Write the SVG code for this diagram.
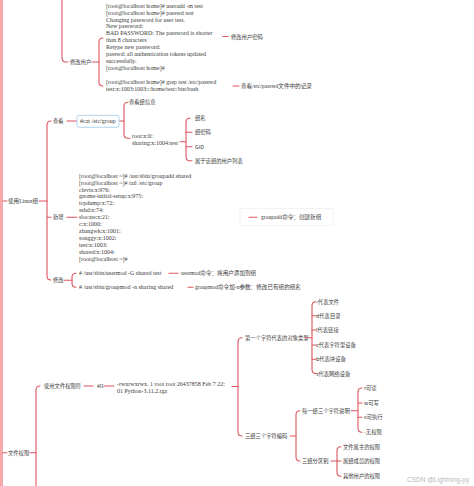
<svg xmlns="http://www.w3.org/2000/svg" width="474" height="486" viewBox="0 0 474 486">
<style>
text{dominant-baseline:central;fill:#3a3a3a}
.t{font-family:"Liberation Serif","Noto Sans CJK SC",serif;font-size:6px}
.c{font-family:"Noto Sans CJK SC","Liberation Sans",sans-serif;font-size:5.3px}
.m{font-family:"Liberation Serif","Noto Sans CJK SC",serif;font-size:5.6px}
.wm{font-family:"Liberation Sans",sans-serif;font-size:6.5px;fill:#b8b8b8}
#connectors path{fill:none;stroke:#de5560;stroke-width:1.1;stroke-linecap:round}
</style>
<rect x="0" y="0" width="474" height="486" fill="#ffffff"/>
<rect x="0" y="0" width="3" height="486" fill="#f6a7aa"/>
<g id="connectors">
<path d="M62 0 V58 Q62 62 66 62 H68"/>
<path d="M92 62 H99"/>
<path d="M103 38 Q99 38 99 42 V82 Q99 86 103 86"/>
<path d="M223 36.5 H228"/>
<path d="M233 86 H239"/>
<path d="M3 201 H7"/>
<path d="M39 201 H47"/>
<path d="M51 121 Q47 121 47 125 V276 Q47 280 51 280"/>
<path d="M47 217.3 H51"/>
<path d="M67 121 H77"/>
<path d="M119 121 H124"/>
<path d="M128 102.3 Q124 102.3 124 106.3 V134.3 Q124 138.3 128 138.3 H130"/>
<path d="M180 141.7 H186"/>
<path d="M190 118.3 Q186 118.3 186 122.3 V156.7 Q186 160.7 190 160.7 H192"/>
<path d="M186 132.3 H192 M186 146.7 H192"/>
<path d="M67 217.3 H77"/>
<path d="M249 217.3 H257"/>
<path d="M64 280.3 H72"/>
<path d="M76 273.3 Q72 273.3 72 277.3 V283.3 Q72 287.3 76 287.3"/>
<path d="M169 273.3 H178"/>
<path d="M188 287.3 H193"/>
<path d="M3 452.7 H7"/>
<path d="M30 452.7 H36"/>
<path d="M40 386 Q36 386 36 390 V486"/>
<path d="M84 386 H93"/>
<path d="M104 386 H114"/>
<path d="M232 386.5 H238"/>
<path d="M242 337.7 Q238 337.7 238 341.7 V432 Q238 436 242 436"/>
<path d="M305 337.7 H312"/>
<path d="M316 301.7 Q312 301.7 312 305.7 V369.5 Q312 373.5 316 373.5"/>
<path d="M312 315.7 H316 M312 330 H316 M312 345 H316 M312 359.3 H316"/>
<path d="M290 436 H296"/>
<path d="M300 410.7 Q296 410.7 296 414.7 V457 Q296 461 300 461"/>
<path d="M351 410.7 H358"/>
<path d="M362 388 Q358 388 358 392 V428.3 Q358 432.3 362 432.3"/>
<path d="M358 403 H362 M358 417.3 H362"/>
<path d="M331 461 H337"/>
<path d="M341 446.7 Q337 446.7 337 450.7 V472.3 Q337 476.3 341 476.3"/>
<path d="M337 461 H341"/>
</g>
<g id="n-modify-user"><text class="c" x="70" y="62">修改用户</text></g>
<g id="n-passwd-cmd"><text class="t" x="106" y="5.7">[root@localhost home]# useradd -m test<tspan x="106" dy="6.9">[root@localhost home]# passwd test</tspan><tspan x="106" dy="6.9">Changing password for user test.</tspan><tspan x="106" dy="6.9">New password:</tspan><tspan x="106" dy="6.9">BAD PASSWORD: The password is shorter</tspan><tspan x="106" dy="6.9">than 8 characters</tspan><tspan x="106" dy="6.9">Retype new password:</tspan><tspan x="106" dy="6.9">passwd: all authentication tokens updated</tspan><tspan x="106" dy="6.9">successfully.</tspan><tspan x="106" dy="6.9">[root@localhost home]#</tspan></text></g>
<g id="n-passwd-note"><text class="c" x="231" y="36.5">修改用户密码</text></g>
<g id="n-grep-cmd"><text class="t" x="106" y="81.8">[root@localhost home]# grep test /etc/passwd<tspan x="106" dy="7.3">test:x:1003:1003::/home/test:/bin/bash</tspan></text></g>
<g id="n-grep-note"><text class="m" x="241" y="86">查看/etc/passwd文件中的记录</text></g>
<g id="n-linux-group"><text class="m" x="8" y="201">使用Linux组</text></g>
<g id="n-view"><text class="c" x="53" y="121">查看</text></g>
<g id="n-cat"><rect x="77" y="115.3" width="42" height="12" rx="2" fill="#fff" stroke="#a9d3ef" stroke-width="0.9"/><text class="t" x="80" y="121.3">#cat /etc/group</text></g>
<g id="n-view-info"><text class="c" x="129" y="102.3">查看组信息</text></g>
<g id="n-root-line"><text class="t" x="132" y="136">root:x:0:<tspan x="132" dy="7">sharing:x:1004:test</tspan></text></g>
<g id="n-gname"><text class="c" x="195" y="118.3">组名</text></g>
<g id="n-gpass"><text class="c" x="195" y="132.3">组密码</text></g>
<g id="n-gid"><text class="c" x="195" y="146.7">GID</text></g>
<g id="n-gusers"><text class="c" x="195" y="160.7">属于该组的用户列表</text></g>
<g id="n-add"><text class="c" x="53" y="217.3">新增</text></g>
<g id="n-groupadd-cmd"><text class="t" x="79" y="175.7">[root@localhost ~]# /usr/sbin/groupadd shared<tspan x="79" dy="6.92">[root@localhost ~]# tail /etc/group</tspan><tspan x="79" dy="6.92">clevis:x:976:</tspan><tspan x="79" dy="6.92">gnome-initial-setup:x:975:</tspan><tspan x="79" dy="6.92">tcpdump:x:72:</tspan><tspan x="79" dy="6.92">sshd:x:74:</tspan><tspan x="79" dy="6.92">slocate:x:21:</tspan><tspan x="79" dy="6.92">c:x:1000:</tspan><tspan x="79" dy="6.92">zhangwk:x:1001:</tspan><tspan x="79" dy="6.92">songgy:x:1002:</tspan><tspan x="79" dy="6.92">test:x:1003:</tspan><tspan x="79" dy="6.92">shared:x:1004:</tspan><tspan x="79" dy="6.92">[root@localhost ~]#</tspan></text></g>
<g id="n-groupadd-note"><rect x="240" y="208.5" width="93" height="17" fill="none" stroke="#f0f0f0" stroke-width="0.8"/><text class="m" x="261" y="217.3">groupadd命令：创建新组</text></g>
<g id="n-mod"><text class="c" x="53" y="280.3">修改</text></g>
<g id="n-usermod"><text class="t" x="79" y="273.3"># /usr/sbin/usermod -G shared test</text></g>
<g id="n-usermod-note"><text class="m" x="181" y="273.3">usermod命令：将用户添加到组</text></g>
<g id="n-groupmod"><text class="t" x="79" y="287.3"># /usr/sbin/groupmod -n sharing shared</text></g>
<g id="n-groupmod-note"><text class="m" x="195" y="287.3">groupmod命令加-n参数：修改已有组的组名</text></g>
<g id="n-file-perm"><text class="c" x="8" y="452.7">文件权限</text></g>
<g id="n-perm-sym"><text class="c" x="44" y="386">使用文件权限符</text></g>
<g id="n-ll"><text class="t" x="97" y="386">#ll</text></g>
<g id="n-ll-out"><text class="t" x="117" y="384">-rwxrwxrwx. 1 root root 26437858 Feb  7 22:<tspan x="117" dy="6.8">01 Python-3.11.2.tgz</tspan></text></g>
<g id="n-first-char"><text class="c" x="245" y="337.7">第一个字符代表的对象类型</text></g>
<g id="n-type-f"><text class="c" x="316" y="301.7">-代表文件</text></g>
<g id="n-type-d"><text class="c" x="316" y="315.7">d代表目录</text></g>
<g id="n-type-l"><text class="c" x="316" y="330">l代表链接</text></g>
<g id="n-type-c"><text class="c" x="316" y="345">c代表字符型设备</text></g>
<g id="n-type-b"><text class="c" x="316" y="359.3">b代表块设备</text></g>
<g id="n-type-s"><text class="c" x="316" y="373.5">s代表网络设备</text></g>
<g id="n-three-groups"><text class="c" x="245" y="436">三组三个字符编码</text></g>
<g id="n-each-group"><text class="c" x="302" y="410.7">每一组三个字符说明</text></g>
<g id="n-r"><text class="c" x="364" y="388">r可读</text></g>
<g id="n-w"><text class="c" x="364" y="403">w可写</text></g>
<g id="n-x"><text class="c" x="364" y="417.3">x可执行</text></g>
<g id="n-none"><text class="c" x="364" y="432.3">-无权限</text></g>
<g id="n-diff"><text class="c" x="302" y="461">三组分区别</text></g>
<g id="n-owner"><text class="c" x="343" y="446.7">文件属主的权限</text></g>
<g id="n-group"><text class="c" x="343" y="461">属组成员的权限</text></g>
<g id="n-other"><text class="c" x="343" y="476.3">其他用户的权限</text></g>
<text class="wm" x="407" y="479">CSDN @Lightning-py</text>
</svg>
